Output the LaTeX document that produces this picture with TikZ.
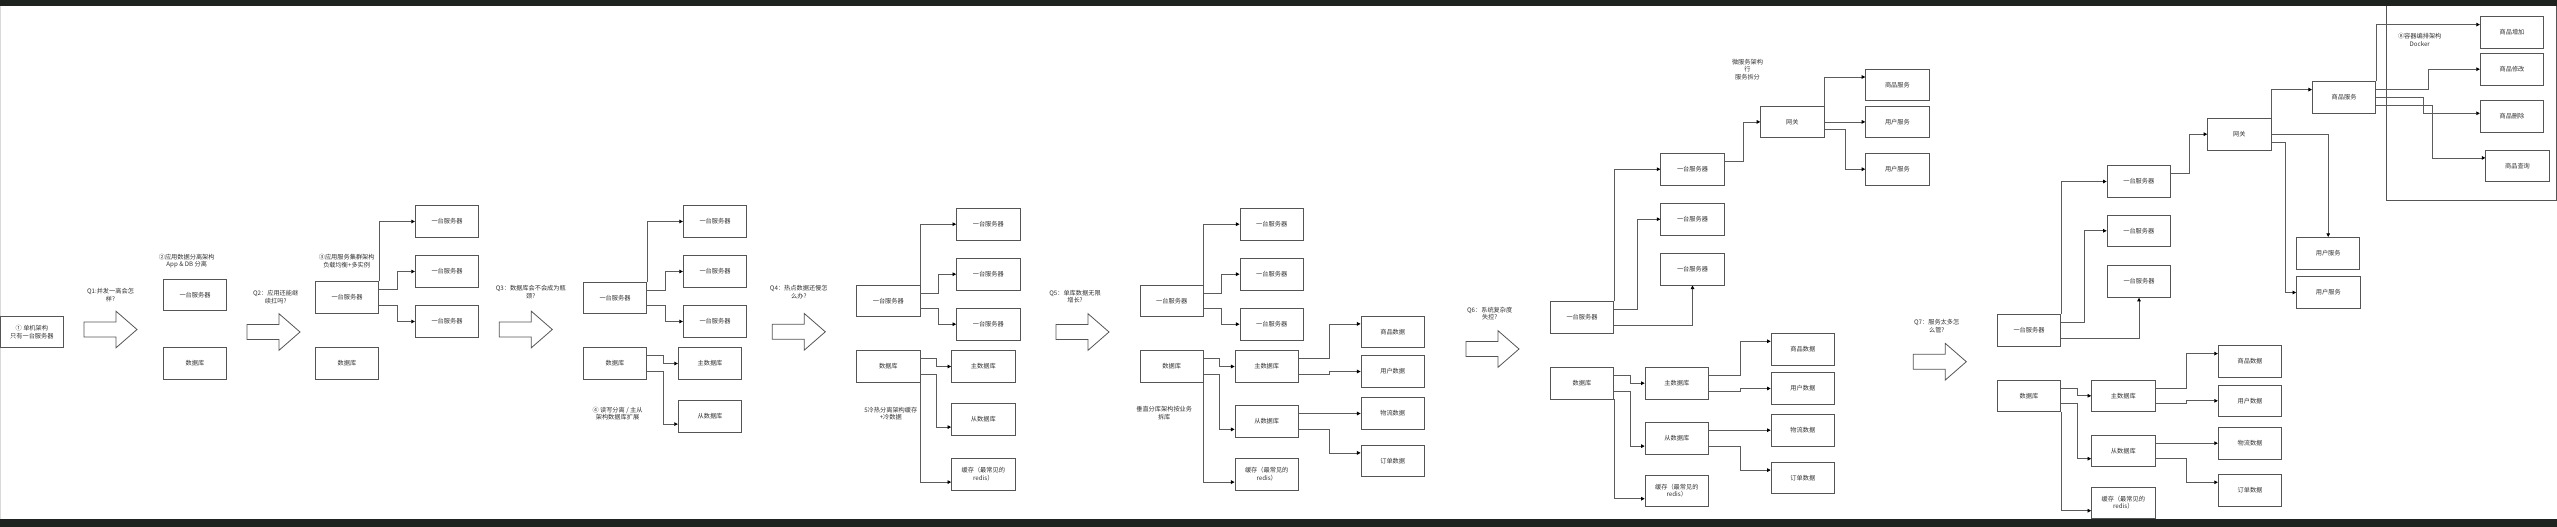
\documentclass[tikz,border=0pt]{standalone}
\usepackage{fontspec}
\newfontfamily\cjk{Noto Sans CJK SC}
\usepackage{tikz}
\usetikzlibrary{arrows.meta}
\definecolor{ink}{HTML}{333333}
\definecolor{edgegray}{HTML}{555555}
\definecolor{wiregray}{HTML}{5C5C5C}
\definecolor{barink}{HTML}{1E2320}
\definecolor{framegray}{HTML}{D9D9D9}
\tikzset{
  unitbox/.style={draw=edgegray,fill=white,line width=0.9pt,minimum width=63.4pt,minimum height=31.6pt,inner sep=1pt,align=center,font=\cjk\fontsize{6.2}{7.4}\selectfont,text=ink},
  tag/.style={align=center,inner sep=0pt,font=\cjk\fontsize{6.2}{7.4}\selectfont,text=ink},
  wire/.style={-{Triangle[length=3.6pt,width=3.6pt,color=black]},draw=wiregray,line width=0.8pt},
  hollow/.style={draw=edgegray,fill=white,line width=0.8pt},
  qarrow/.pic={\draw[hollow] (0,7.5) -- (32,7.5) -- (32,18.3) -- (53,0) -- (32,-18.3) -- (32,-7.5) -- (0,-7.5) -- cycle;}
}

\begin{document}
\begin{tikzpicture}[x=1pt,y=-1pt]
  \useasboundingbox (0,0) rectangle (2557,527);
  \fill[white] (0,0) rectangle (2557,527);
  \draw[framegray,line width=1.4pt] (0.7,6) -- (0.7,519);

  % stage 1
  \node[unitbox] (single) at (31.9,332) {① 单机架构\\只有一台服务器};
  \node[tag] (q1) at (110.5,295.3) {Q1:并发一高会怎\\样?};
  \pic at (84,329.5) {qarrow};

  % stage 2
  \node[tag] (lab2) at (186.7,261) {②应用数据分离架构\\App \& DB 分离};
  \node[unitbox] (app2) at (195,295) {一台服务器};
  \node[unitbox] (db2) at (195,363.5) {数据库};
  \node[tag] (q2) at (275.7,297.2) {Q2：应用还能继\\续扛吗?};
  \pic at (247,332) {qarrow};

  % stage 3
  \node[tag] (lab3) at (346.7,261) {③应用服务集群架构\\负载均衡+多实例};
  \node[unitbox] (lb3) at (347,297.5) {一台服务器};
  \node[unitbox] (app3a) at (447,221.5) {一台服务器};
  \node[unitbox] (app3b) at (447,271.5) {一台服务器};
  \node[unitbox] (app3c) at (447,321.5) {一台服务器};
  \node[unitbox] (db3) at (347,363.5) {数据库};
  \draw[wire] (lb3.north east) |- (app3a.west);
  \draw[wire] ([yshift=7.9pt]lb3.east) -- ++(18,0) |- (app3b.west);
  \draw[wire] ([yshift=-7.9pt]lb3.east) -- ++(18,0) |- (app3c.west);
  \node[tag] (q3) at (530.8,292) {Q3：数据库会不会成为瓶\\颈?};
  \pic at (499.3,329.5) {qarrow};

  % stage 4
  \node[unitbox] (lb4) at (615,297.8) {一台服务器};
  \node[unitbox] (app4a) at (715,221.5) {一台服务器};
  \node[unitbox] (app4b) at (715,271.5) {一台服务器};
  \node[unitbox] (app4c) at (715,321.5) {一台服务器};
  \node[unitbox] (db4) at (615,363.5) {数据库};
  \node[unitbox] (master4) at (710,363.5) {主数据库};
  \node[unitbox] (slave4) at (710,416.2) {从数据库};
  \node[tag] (lab4) at (617.5,413.7) {④ 读写分离 / 主从\\架构数据库扩展};
  \draw[wire] (lb4.north east) |- (app4a.west);
  \draw[wire] ([yshift=7.9pt]lb4.east) -- ++(18,0) |- (app4b.west);
  \draw[wire] ([yshift=-7.9pt]lb4.east) -- ++(18,0) |- (app4c.west);
  \draw[wire] ([yshift=7.9pt]db4.east) -- ++(16,0) |- (master4.west);
  \draw[wire] ([yshift=-7.9pt]db4.east) -- ++(16,0) |- ([yshift=-7.9pt]slave4.west);
  \node[tag] (q4) at (798.8,292) {Q4：热点数据还慢怎\\么办?};
  \pic at (772.3,331.8) {qarrow};

  % stage 5
  \node[unitbox] (lb5) at (888.3,300.8) {一台服务器};
  \node[unitbox] (app5a) at (988.3,224.2) {一台服务器};
  \node[unitbox] (app5b) at (988.3,274.2) {一台服务器};
  \node[unitbox] (app5c) at (988.3,324.2) {一台服务器};
  \node[unitbox] (db5) at (888.3,366.5) {数据库};
  \node[unitbox] (master5) at (983.3,366.5) {主数据库};
  \node[unitbox] (slave5) at (983.3,419.2) {从数据库};
  \node[unitbox] (cache5) at (983.3,474.2) {缓存（最常见的\\redis）};
  \node[tag] (lab5) at (890.8,413.8) {5冷热分离架构缓存\\+冷数据};
  \draw[wire] (lb5.north east) |- (app5a.west);
  \draw[wire] ([yshift=7.9pt]lb5.east) -- ++(18,0) |- (app5b.west);
  \draw[wire] ([yshift=-7.9pt]lb5.east) -- ++(18,0) |- (app5c.west);
  \draw[wire] ([yshift=7.9pt]db5.east) -- ++(16,0) |- (master5.west);
  \draw[wire] ([yshift=-7.9pt]db5.east) -- ++(16,0) |- ([yshift=-7.9pt]slave5.west);
  \draw[wire] (db5.south east) |- ([yshift=-7.9pt]cache5.west);
  \node[tag] (q5) at (1075,296.7) {Q5：单库数据无限\\增长?};
  \pic at (1056,332) {qarrow};

  % stage 6
  \node[unitbox] (lb6) at (1171.7,300.8) {一台服务器};
  \node[unitbox] (app6a) at (1271.7,224.2) {一台服务器};
  \node[unitbox] (app6b) at (1271.7,274.2) {一台服务器};
  \node[unitbox] (app6c) at (1271.7,324.2) {一台服务器};
  \node[unitbox] (db6) at (1171.7,366.5) {数据库};
  \node[unitbox] (master6) at (1266.7,366.5) {主数据库};
  \node[unitbox] (slave6) at (1266.7,421.5) {从数据库};
  \node[unitbox] (cache6) at (1266.7,474.2) {缓存（最常见的\\redis）};
  \node[tag] (lab6) at (1164.2,413.3) {垂直分库架构按业务\\拆库};
  \node[unitbox] (goods6) at (1392.7,331.8) {商品数据};
  \node[unitbox] (user6) at (1392.7,371.5) {用户数据};
  \node[unitbox] (logi6) at (1392.7,413.5) {物流数据};
  \node[unitbox] (order6) at (1392.7,460.8) {订单数据};
  \draw[wire] (lb6.north east) |- (app6a.west);
  \draw[wire] ([yshift=7.9pt]lb6.east) -- ++(18,0) |- (app6b.west);
  \draw[wire] ([yshift=-7.9pt]lb6.east) -- ++(18,0) |- (app6c.west);
  \draw[wire] ([yshift=7.9pt]db6.east) -- ++(16,0) |- (master6.west);
  \draw[wire] ([yshift=-7.9pt]db6.east) -- ++(16,0) |- ([yshift=-7.9pt]slave6.west);
  \draw[wire] (db6.south east) |- ([yshift=-7.9pt]cache6.west);
  \draw[wire] ([yshift=7.9pt]master6.east) -- ++(31,0) |- ([yshift=7.9pt]goods6.west);
  \draw[wire] ([yshift=-7.9pt]master6.east) -- ++(31,0) |- (user6.west);
  \draw[wire] ([yshift=7.9pt]slave6.east) -- ++(31,0) |- (logi6.west);
  \draw[wire] ([yshift=-7.9pt]slave6.east) -- ++(31,0) |- ([yshift=7.9pt]order6.west);
  \node[tag] (q6) at (1489.7,313.7) {Q6：系统复杂度\\失控?};
  \pic at (1466,349) {qarrow};

  % stage 7
  \node[unitbox] (lb7) at (1582,317.5) {一台服务器};
  \node[unitbox] (app7a) at (1692.5,169.2) {一台服务器};
  \node[unitbox] (app7b) at (1692.5,219.2) {一台服务器};
  \node[unitbox] (app7c) at (1692.5,269.2) {一台服务器};
  \node[unitbox] (gate7) at (1792.4,121.9) {网关};
  \node[unitbox] (svc7a) at (1897.4,84.9) {商品服务};
  \node[unitbox] (svc7b) at (1897.4,121.9) {用户服务};
  \node[unitbox] (svc7c) at (1897.4,169.2) {用户服务};
  \node[tag] (lab7) at (1747.5,69.3) {微服务架构\\行\\服务拆分};
  \node[unitbox] (db7) at (1582,383.2) {数据库};
  \node[unitbox] (master7) at (1676.8,383.2) {主数据库};
  \node[unitbox] (slave7) at (1676.8,438.2) {从数据库};
  \node[unitbox] (cache7) at (1676.8,490.8) {缓存（最常见的\\redis）};
  \node[unitbox] (goods7) at (1802.8,349.2) {商品数据};
  \node[unitbox] (user7) at (1802.8,388.5) {用户数据};
  \node[unitbox] (logi7) at (1802.8,430.2) {物流数据};
  \node[unitbox] (order7) at (1802.8,478) {订单数据};
  \draw[wire] (lb7.north east) |- (app7a.west);
  \draw[wire] ([yshift=7.9pt]lb7.east) -- ++(23.6,0) |- (app7b.west);
  \draw[wire] ([yshift=-7.9pt]lb7.east) -| (app7c.south);
  \draw[wire] ([yshift=7.9pt]app7a.east) -- ++(18.4,0) |- (gate7.west);
  \draw[wire] (gate7.north east) |- ([yshift=7.9pt]svc7a.west);
  \draw[wire] (gate7.east) -- (svc7b.west);
  \draw[wire] ([yshift=-7.9pt]gate7.east) -- ++(21,0) |- (svc7c.west);
  \draw[wire] ([yshift=7.9pt]db7.east) -- ++(16,0) |- (master7.west);
  \draw[wire] ([yshift=-7.9pt]db7.east) -- ++(16,0) |- ([yshift=-7.9pt]slave7.west);
  \draw[wire] (db7.south east) |- ([yshift=-7.9pt]cache7.west);
  \draw[wire] ([yshift=7.9pt]master7.east) -- ++(31,0) |- ([yshift=7.9pt]goods7.west);
  \draw[wire] ([yshift=-7.9pt]master7.east) -- ++(31,0) |- (user7.west);
  \draw[wire] ([yshift=7.9pt]slave7.east) -- ++(31,0) |- (logi7.west);
  \draw[wire] ([yshift=-7.9pt]slave7.east) -- ++(31,0) |- ([yshift=7.9pt]order7.west);
  \node[tag] (q7) at (1936.7,326.3) {Q7：服务太多怎\\么管?};
  \pic at (1913.3,361.7) {qarrow};

  % stage 8
  \draw[edgegray,line width=0.9pt] (2386,3) rectangle (2556.5,200);
  \node[tag] (lab8) at (2419.7,40) {⑧容器编排架构\\Docker};
  \node[unitbox] (lb8) at (2029,330.2) {一台服务器};
  \node[unitbox] (app8a) at (2138.8,181.5) {一台服务器};
  \node[unitbox] (app8b) at (2138.8,230.8) {一台服务器};
  \node[unitbox] (app8c) at (2139,281.5) {一台服务器};
  \node[unitbox] (gate8) at (2239.4,134.2) {网关};
  \node[unitbox] (svc8) at (2344.1,97.5) {商品服务};
  \node[unitbox] (user8a) at (2328.2,253.2) {用户服务};
  \node[unitbox] (user8b) at (2328.3,292.5) {用户服务};
  \node[unitbox] (add8) at (2512,32.5) {商品增加};
  \node[unitbox] (edit8) at (2512,69.2) {商品修改};
  \node[unitbox] (del8) at (2512,116.5) {商品删除};
  \node[unitbox] (query8) at (2517.5,165.8) {商品查询};
  \node[unitbox] (db8) at (2029,395.8) {数据库};
  \node[unitbox] (master8) at (2123.3,395.8) {主数据库};
  \node[unitbox] (slave8) at (2123.3,450.8) {从数据库};
  \node[unitbox] (cache8) at (2123.3,502.8) {缓存（最常见的\\redis）};
  \node[unitbox] (goods8) at (2250,361.5) {商品数据};
  \node[unitbox] (user8) at (2250,400.8) {用户数据};
  \node[unitbox] (logi8) at (2250,443.2) {物流数据};
  \node[unitbox] (order8) at (2250,490.2) {订单数据};
  \draw[wire] (lb8.north east) |- (app8a.west);
  \draw[wire] ([yshift=7.9pt]lb8.east) -- ++(23,0) |- (app8b.west);
  \draw[wire] ([yshift=-7.9pt]lb8.east) -| (app8c.south);
  \draw[wire] ([yshift=7.9pt]app8a.east) -- ++(18.8,0) |- (gate8.west);
  \draw[wire] (gate8.north east) |- ([yshift=7.9pt]svc8.west);
  \draw[wire] (gate8.east) -| (user8a.north);
  \draw[wire] ([yshift=-7.9pt]gate8.east) -- ++(13.4,0) |- (user8b.west);
  \draw[wire] (svc8.north east) |- ([yshift=7.9pt]add8.west);
  \draw[wire] ([yshift=7.9pt]svc8.east) -- ++(52.4,0) |- (edit8.west);
  \draw[wire] (svc8.east) -- ++(47.3,0) |- ([yshift=3.2pt]del8.west);
  \draw[wire] ([yshift=-7.9pt]svc8.east) -- ++(55.7,0) |- ([yshift=7.9pt]query8.west);
  \draw[wire] ([yshift=7.9pt]db8.east) -- ++(16,0) |- (master8.west);
  \draw[wire] ([yshift=-7.9pt]db8.east) -- ++(16,0) |- ([yshift=-7.9pt]slave8.west);
  \draw[wire] (db8.south east) |- ([yshift=-7.9pt]cache8.west);
  \draw[wire] ([yshift=7.9pt]master8.east) -- ++(31,0) |- ([yshift=7.9pt]goods8.west);
  \draw[wire] ([yshift=-7.9pt]master8.east) -- ++(31,0) |- (user8.west);
  \draw[wire] ([yshift=7.9pt]slave8.east) -- ++(31,0) |- (logi8.west);
  \draw[wire] ([yshift=-7.9pt]slave8.east) -- ++(31,0) |- ([yshift=7.9pt]order8.west);

  \fill[barink] (0,0) rectangle (2557,6);
  \fill[barink] (0,519) rectangle (2557,527);
\end{tikzpicture}
\end{document}
